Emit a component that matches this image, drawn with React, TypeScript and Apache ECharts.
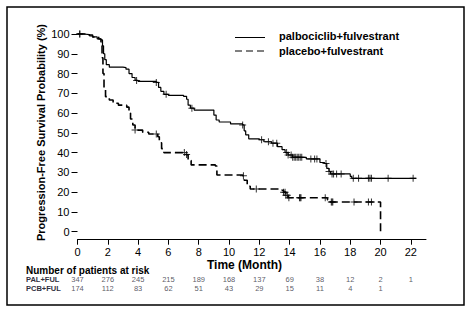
import React, { useEffect, useRef } from 'react';
import * as echarts from 'echarts';

const months = [0, 2, 4, 6, 8, 10, 12, 14, 16, 18, 20, 22];
const yTicks = [0, 10, 20, 30, 40, 50, 60, 70, 80, 90, 100];

const palName = 'palbociclib+fulvestrant';
const pcbName = 'placebo+fulvestrant';

const palCurve: [number, number][] = [
  [0, 100], [0.4, 99.7], [0.8, 99], [1.0, 98.5], [1.3, 97.5], [1.55, 97], [1.65, 94], [1.72, 90],
  [1.8, 87], [1.9, 84.5], [2.1, 83.2], [3.0, 83], [3.2, 82.2], [3.4, 80], [3.6, 78], [3.8, 76.5],
  [4.0, 76], [5.2, 75.5], [5.35, 73], [5.5, 71], [5.7, 69.5], [6.0, 69], [7.0, 68.5], [7.2, 67],
  [7.3, 64], [7.45, 62.5], [7.7, 61.5], [9.0, 59], [9.15, 56.5], [9.35, 55.5], [10.1, 54.5],
  [10.9, 54], [11.0, 51], [11.1, 49], [11.3, 47], [12.0, 46.5], [12.3, 45.5], [12.8, 44.8],
  [13.2, 43], [13.5, 41.5], [13.7, 40], [13.9, 38.8], [14.2, 37.6], [15.1, 36.8], [16.0, 35],
  [16.3, 34.5], [16.45, 32], [16.6, 30.5], [16.7, 29.2], [18.0, 28], [18.1, 27], [22.35, 27]
];

const pcbCurve: [number, number][] = [
  [0, 100], [0.5, 99.5], [1.0, 98.5], [1.4, 97.5], [1.55, 96], [1.62, 88], [1.68, 80], [1.75, 72],
  [1.85, 68.3], [2.1, 66.6], [2.35, 65], [2.7, 64], [3.25, 63], [3.4, 60], [3.5, 57], [3.65, 54],
  [3.8, 51.4], [4.3, 50.3], [4.7, 49.4], [5.3, 48], [5.4, 45], [5.55, 42], [5.7, 40], [7.15, 39],
  [7.3, 36], [7.5, 33.8], [9.1, 33.2], [9.2, 28.7], [10.9, 28.3], [11.0, 26], [11.2, 23],
  [11.4, 21.6], [13.5, 21], [13.6, 20], [13.75, 18.5], [13.9, 17.2], [16.4, 17], [16.5, 16],
  [16.7, 15], [20.0, 0]
];

const palCensor = [
  0.15, 3.9, 5.2, 5.85, 7.55, 10.9, 12.15, 12.6, 12.9, 13.15, 13.8, 13.9, 14.1, 14.2, 14.3, 14.4,
  14.5, 14.6, 14.7, 14.8, 15.4, 15.65, 15.8, 16.4, 16.6, 16.8, 16.9, 17.1, 17.4, 18.2, 18.55,
  19.2, 19.3, 19.4, 20.5, 22.15
];

const pcbCensor = [
  0.15, 3.8, 5.2, 7.05, 7.2, 10.95, 11.8, 13.6, 13.7, 13.75, 13.85, 13.95, 14.65, 14.7, 14.75,
  16.35, 16.75, 16.8, 16.85, 18.25, 19.2, 19.4
];

const palAtRisk = [347, 276, 245, 215, 189, 168, 137, 69, 38, 12, 2, 1];
const pcbAtRisk = [174, 112, 83, 62, 51, 43, 29, 15, 11, 4, 1];

function stepValue(curve: [number, number][], t: number): number {
  let v = curve[0][1];
  for (const [x, y] of curve) {
    if (x <= t) v = y;
    else break;
  }
  return v;
}

const FONT = 'Liberation Sans, Arial, sans-serif';
const PLUS = 'path://M3,0h1v7h-1zM0,3h7v1h-7z';
const TABLE_COLOR = '#2f3040';
const TABLE_FONT = 7.5;

export default function App() {
  const ref = useRef<HTMLDivElement>(null);

  useEffect(() => {
    if (!ref.current) return;
    const chart = echarts.init(ref.current, undefined, { renderer: 'svg' });

    const riskData: any[] = [];
    palAtRisk.forEach((n, i) => riskData.push([months[i], 0, n]));
    pcbAtRisk.forEach((n, i) => riskData.push([months[i], 1, n]));

    chart.setOption({
      animation: false,
      backgroundColor: '#fff',
      textStyle: { fontFamily: FONT },
      grid: [
        { left: 77.5, right: 45, top: 34, bottom: 81.3 },
        { left: 77.5, right: 45, top: 279.5, height: 8.5 }
      ],
      xAxis: [
        {
          type: 'value', gridIndex: 0, min: 0, max: 23, offset: 8,
          axisLine: { show: true, onZero: false, lineStyle: { color: '#000', width: 1 } },
          axisTick: { show: true, customValues: months, length: 5, lineStyle: { color: '#000' } },
          axisLabel: { customValues: months, fontSize: 11, margin: 7, color: '#000', fontFamily: FONT },
          splitLine: { show: false }
        },
        { type: 'value', gridIndex: 1, min: 0, max: 23, show: false }
      ],
      yAxis: [
        {
          type: 'value', gridIndex: 0, min: 0, max: 100, interval: 10,
          axisLine: { show: false },
          axisTick: { show: true, customValues: yTicks, length: 6, lineStyle: { color: '#000' } },
          axisLabel: { customValues: yTicks, fontSize: 11, margin: 8, color: '#000', fontFamily: FONT },
          splitLine: { show: false }
        },
        { type: 'value', gridIndex: 1, min: 0, max: 1, inverse: true, show: false }
      ],
      series: [
        {
          name: palName, type: 'line', step: 'end', data: palCurve, symbol: 'none', clip: false,
          lineStyle: { color: '#000', width: 1.2 }
        },
        {
          name: pcbName, type: 'line', step: 'end', data: pcbCurve, symbol: 'none', clip: false,
          lineStyle: { color: '#000', width: 1.6, type: [8, 4] }
        },
        {
          name: palName + ' censored', type: 'scatter', symbol: PLUS, symbolSize: 7, clip: false,
          itemStyle: { color: '#000' },
          data: palCensor.map((t) => [t, stepValue(palCurve, t)])
        },
        {
          name: pcbName + ' censored', type: 'scatter', symbol: PLUS, symbolSize: 7, clip: false,
          itemStyle: { color: '#000' },
          data: pcbCensor.map((t) => [t, stepValue(pcbCurve, t)])
        },
        {
          name: 'at risk', type: 'scatter', xAxisIndex: 1, yAxisIndex: 1, symbolSize: 1, silent: true,
          itemStyle: { color: 'rgba(0,0,0,0)' },
          label: {
            show: true, position: 'inside', formatter: (p: any) => String(p.value[2]),
            fontSize: TABLE_FONT, lineHeight: TABLE_FONT, color: TABLE_COLOR, fontFamily: FONT
          },
          data: riskData
        }
      ],
      graphic: [
        { type: 'rect', shape: { x: 7, y: 7, width: 457, height: 298 }, style: { fill: 'none', stroke: '#000', lineWidth: 1.5 } },
        {
          type: 'text', x: 40.5, y: 132.5, rotation: Math.PI / 2,
          style: { text: 'Progression-Free Survival Probability (%)', fontSize: 11, fontWeight: 'bold', fontFamily: FONT, fill: '#000', align: 'center', verticalAlign: 'middle' }
        },
        {
          type: 'text', x: 244.5, y: 265,
          style: { text: 'Time (Month)', fontSize: 12, fontWeight: 'bold', fontFamily: FONT, fill: '#000', align: 'center', verticalAlign: 'middle' }
        },
        {
          type: 'text', x: 26, y: 270,
          style: { text: 'Number of patients at risk', fontSize: 10, fontWeight: 'bold', fontFamily: FONT, fill: '#000', align: 'left', verticalAlign: 'middle' }
        },
        {
          type: 'text', x: 26, y: 279.5,
          style: { text: 'PAL+FUL', fontSize: TABLE_FONT, lineHeight: TABLE_FONT, fontWeight: 'bold', fontFamily: FONT, fill: TABLE_COLOR, align: 'left', verticalAlign: 'middle' }
        },
        {
          type: 'text', x: 26, y: 288,
          style: { text: 'PCB+FUL', fontSize: TABLE_FONT, lineHeight: TABLE_FONT, fontWeight: 'bold', fontFamily: FONT, fill: TABLE_COLOR, align: 'left', verticalAlign: 'middle' }
        },
        { type: 'line', shape: { x1: 235, y1: 37.5, x2: 265, y2: 37.5 }, style: { stroke: '#000', lineWidth: 1 } },
        { type: 'line', shape: { x1: 235, y1: 51, x2: 265, y2: 51 }, style: { stroke: '#000', lineWidth: 1, lineDash: [7, 4] } },
        {
          type: 'text', x: 279, y: 36,
          style: { text: palName, fontSize: 11, fontWeight: 'bold', fontFamily: FONT, fill: '#000', align: 'left', verticalAlign: 'middle' }
        },
        {
          type: 'text', x: 279, y: 51,
          style: { text: pcbName, fontSize: 11, fontWeight: 'bold', fontFamily: FONT, fill: '#000', align: 'left', verticalAlign: 'middle' }
        }
      ]
    });

    return () => chart.dispose();
  }, []);

  return (
    <div
      ref={ref}
      style={{ position: 'fixed', left: 0, top: 0, width: 471, height: 313, background: '#fff' }}
    />
  );
}
